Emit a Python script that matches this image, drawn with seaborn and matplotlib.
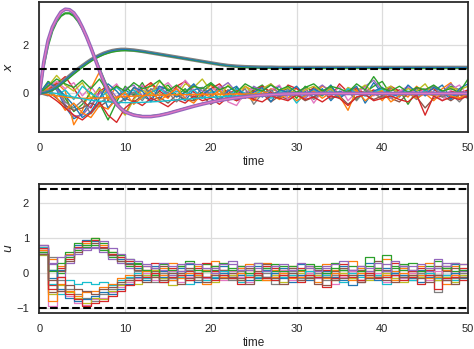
import matplotlib
matplotlib.use("Agg")
import matplotlib.pyplot as plt
import seaborn as sns
import pandas as pd

# ---------------- data ----------------
time = list(range(51))
fine_time = [0, 0.5, 1, 1.5, 2, 2.5, 3, 3.5, 4, 4.5, 5, 5.5, 6, 6.5, 7, 7.5, 8, 8.5, 9, 9.5, 10] + list(range(11, 51))

x_limit = 1.0
u_upper = 2.4
u_lower = -1.0

peak_a = [0, 1.3, 2.2, 2.75, 3.1, 3.38, 3.5, 3.48, 3.35, 3.1, 2.75, 2.35, 1.9, 1.42, 0.95, 0.5, 0.1, -0.2, -0.45, -0.63, -0.77,
          -0.9, -0.96, -0.96, -0.91, -0.83, -0.73, -0.63, -0.53, -0.44, -0.36, -0.29, -0.23, -0.18, -0.14, -0.1, -0.07, -0.05,
          -0.03, -0.02, -0.01, -0.01, 0, 0, 0, 0, 0, 0, 0, 0, 0, 0, 0, 0, 0, 0, 0, 0, 0, 0, 0]
peak_b = [0, 1.15, 2.0, 2.6, 2.98, 3.22, 3.33, 3.33, 3.22, 3.0, 2.7, 2.33, 1.92, 1.48, 1.03, 0.6, 0.2, -0.13, -0.4, -0.6, -0.74,
          -0.88, -0.94, -0.94, -0.9, -0.82, -0.72, -0.62, -0.52, -0.43, -0.35, -0.28, -0.22, -0.17, -0.13, -0.1, -0.07, -0.05,
          -0.03, -0.02, -0.01, 0, 0, 0, 0, 0, 0, 0, 0, 0, 0, 0, 0, 0, 0, 0, 0, 0, 0, 0, 0]
slow_a = [0, 0.03, 0.08, 0.17, 0.28, 0.42, 0.57, 0.73, 0.88, 1.02, 1.15, 1.28, 1.4, 1.5, 1.59, 1.67, 1.73, 1.78, 1.81, 1.83, 1.83,
          1.8, 1.75, 1.69, 1.63, 1.57, 1.51, 1.45, 1.39, 1.33, 1.27, 1.21, 1.16, 1.13, 1.11, 1.1, 1.09, 1.09, 1.08, 1.08, 1.08,
          1.08, 1.08, 1.08, 1.08, 1.08, 1.08, 1.08, 1.08, 1.08, 1.08, 1.08, 1.08, 1.08, 1.08, 1.08, 1.08, 1.08, 1.08, 1.08, 1.08]
slow_b = [0, 0.02, 0.06, 0.13, 0.23, 0.36, 0.5, 0.65, 0.8, 0.94, 1.08, 1.21, 1.33, 1.44, 1.53, 1.61, 1.67, 1.72, 1.75, 1.77, 1.78,
          1.77, 1.73, 1.68, 1.62, 1.56, 1.5, 1.44, 1.38, 1.32, 1.26, 1.2, 1.15, 1.11, 1.09, 1.07, 1.06, 1.05, 1.05, 1.05, 1.05,
          1.05, 1.05, 1.05, 1.05, 1.05, 1.05, 1.05, 1.05, 1.05, 1.05, 1.05, 1.05, 1.05, 1.05, 1.05, 1.05, 1.05, 1.05, 1.05, 1.05]

x_noise_1 = [0, 0.35, 0.15, -0.55, -1.05, -0.85, -0.3, 0.25, -0.6, -0.2, 0.15, -0.1, 0.3, 0.05, -0.25, 0.2, -0.05, -0.3, 0.15, 0.25,
             -0.1, 0.3, -0.2, 0.1, 0.0, 0.25, -0.15, 0.1, 0.3, -0.2, 0.05, 0.1, -0.15, 0.2, -0.3, 0.1, 0.0, 0.2, -0.1, 0.45,
             0.0, -0.2, 0.1, 0.0, 0.2, -0.1, 0.1, 0.35, -0.2, 0.0, 0.1]
x_noise_2 = [0, 0.2, 0.45, 0.1, -1.3, -0.7, 0.2, 0.9, -0.3, 0.35, -0.2, 0.25, -0.15, 0.4, 0.0, -0.2, 0.3, 0.1, -0.15, 0.05,
             0.35, -0.05, 0.15, -0.25, 0.3, 0.1, -0.1, 0.2, 0.05, -0.2, 0.25, -0.1, 0.0, 0.3, 0.15, -0.2, 0.1, 0.25, -0.05, 0.1,
             -0.3, 0.2, 0.05, -0.15, 0.3, 0.0, -0.1, 0.2, 0.45, -0.2, 0.1]
x_noise_3 = [0, 0.5, 0.3, -0.2, -0.75, -0.45, 0.05, -0.4, -1.1, -0.35, 0.3, -0.05, 0.45, -0.2, 0.1, 0.35, -0.1, 0.2, -0.25, 0.05,
             0.4, 0.1, -0.15, 0.25, -0.1, 0.15, 0.35, -0.05, 0.1, 0.2, -0.2, 0.3, 0.05, -0.1, 0.25, 0.0, 0.15, -0.25, 0.05, 0.3,
             0.5, -0.05, 0.15, -0.45, 0.1, 0.2, -0.1, 0.05, 0.3, 0.15, -0.15]
x_noise_4 = [0, 0.15, 0.4, 0.7, 0.2, -0.3, -0.6, 0.1, 0.3, -0.4, -0.85, -0.2, 0.2, 0.45, 0.1, -0.15, 0.3, 0.5, 0.05, -0.1,
             0.2, 0.4, 0.0, 0.15, -0.2, 0.1, 0.3, 0.05, -0.1, 0.35, 0.2, -0.05, 0.25, 0.1, -0.15, 0.4, 0.05, 0.2, 0.0, 0.15,
             -0.1, 0.3, 0.1, -0.05, 0.25, 0.05, 0.2, -0.15, 0.1, 0.0, 0.15]
x_noise_5 = [0, 0.4, 0.2, -0.45, -0.95, -0.9, -0.5, 0.0, 0.25, -0.15, 0.2, 0.35, -0.1, 0.15, 0.3, -0.05, 0.2, -0.2, 0.35, 0.1,
             -0.05, 0.2, 0.45, 0.05, -0.1, 0.3, 0.1, 0.4, -0.05, 0.15, 0.0, -0.2, 0.1, 0.35, 0.05, -0.1, 0.2, 0.05, 0.3, 0.55,
             0.1, -0.15, 0.05, 0.25, -0.1, 0.15, 0.3, 0.05, 0.4, 0.1, -0.05]
x_noise_6 = [0, 0.1, -0.2, -0.5, -0.7, -0.6, -0.4, -0.55, -0.3, -0.45, -0.2, -0.35, -0.1, -0.3, -0.15, -0.4, -0.05, -0.25, -0.3, -0.1,
             -0.45, -0.2, -0.05, -0.3, -0.15, -0.2, 0.0, -0.35, -0.1, -0.25, -0.05, -0.3, -0.15, 0.05, -0.2, -0.1, -0.45, -0.15, -0.05, -0.25,
             -0.1, -0.2, -0.35, 0.0, -0.15, -0.6, -0.2, -0.1, -0.3, -0.05, -0.2]
x_noise_7 = [0, 0.25, 0.5, 0.2, 0.45, -0.1, 0.3, -0.2, 0.1, 0.4, -0.15, 0.05, 0.35, -0.25, 0.2, 0.45, 0.05, 0.55, 0.15, -0.2,
             0.1, 0.3, -0.35, -0.5, 0.05, 0.2, -0.1, 0.15, 0.35, -0.25, 0.0, 0.2, -0.4, 0.1, -0.15, 0.3, -0.3, 0.05, 0.25, -0.1,
             0.15, -0.2, 0.1, 0.3, -0.05, 0.2, 0.05, -0.3, 0.15, 0.35, -0.1]
x_noise_8 = [0, -0.1, 0.3, -0.35, -0.6, -0.3, -0.85, -0.4, -0.15, -0.5, -0.2, 0.05, -0.3, 0.2, -0.1, 0.05, -0.35, 0.1, -0.2, 0.25,
             -0.05, -0.3, 0.15, -0.15, 0.2, -0.45, 0.0, 0.15, -0.2, 0.1, -0.05, 0.25, -0.25, 0.05, 0.2, -0.15, 0.1, -0.3, 0.15, 0.0,
             -0.2, 0.25, -0.1, 0.05, -0.25, 0.1, 0.3, -0.15, 0.0, -0.35, 0.05]
x_noise_9 = [0, 0.3, 0.75, 0.35, 0.1, 0.45, -0.2, 0.2, -0.1, -0.5, -0.9, -0.25, 0.15, -0.05, 0.5, 0.2, -0.1, 0.4, 0.25, 0.6,
             0.1, -0.15, 0.35, 0.05, 0.3, -0.05, 0.2, 0.4, 0.1, 0.25, -0.1, 0.15, 0.3, 0.05, 0.2, -0.15, 0.25, 0.1, 0.35, 0.0,
             0.15, 0.3, -0.05, 0.2, 0.1, 0.4, -0.1, 0.05, 0.25, 0.15, 0.3]
x_noise_10 = [0, 0.05, -0.1, 0.15, -0.25, 0.3, 0.0, -0.2, 0.1, 0.25, -0.05, 0.15, -0.2, 0.05, 0.2, -0.1, 0.1, -0.05, 0.15, -0.2,
              0.05, 0.1, -0.15, 0.2, 0.0, -0.1, 0.15, -0.2, 0.05, 0.1, -0.4, 0.0, 0.15, -0.05, 0.1, -0.15, 0.2, 0.0, -0.1, 0.05,
              0.2, -0.15, 0.0, 0.1, -0.2, 0.15, -0.05, 0.1, -0.1, 0.0, 0.05]
x_noise_11 = [0, 0.45, 0.25, -0.1, -0.5, -1.0, -0.75, -0.2, 0.4, 0.1, -0.3, 0.25, 0.1, -0.35, 0.3, 0.15, -0.15, 0.05, 0.4, -0.05,
              0.2, -0.3, 0.1, 0.3, -0.15, 0.05, 0.25, -0.35, 0.15, 0.05, 0.3, -0.1, 0.2, 0.0, 0.35, -0.2, 0.05, 0.3, -0.4, 0.1,
              0.25, 0.0, -0.15, 0.35, 0.05, -0.05, 0.25, 0.1, -0.25, 0.2, 0.4]
x_noise_12 = [0, 0.2, -0.15, -0.7, -0.4, -0.8, -1.0, -0.5, -0.65, -0.2, 0.05, -0.45, -0.15, 0.1, -0.3, -0.05, 0.2, -0.2, -0.4, 0.0,
              -0.15, 0.15, -0.3, 0.0, -0.1, -0.3, 0.1, -0.05, -0.25, 0.05, -0.3, -0.1, 0.1, -0.2, 0.05, -0.1, -0.7, 0.15, -0.3, -0.05,
              0.1, -0.35, -0.1, 0.05, -0.2, 0.0, -0.3, 0.05, -0.1, -0.2, 0.0]
x_noise_13 = [0, 0.3, 0.6, 0.4, 0.25, 0.55, 0.2, 0.6, 0.05, 0.3, 0.1, 0.45, 0.2, 0.3, 0.55, 0.1, 0.35, 0.05, 0.3, 0.2,
              0.45, 0.15, 0.3, 0.05, 0.4, 0.2, 0.1, 0.35, 0.15, 0.3, 0.05, 0.25, 0.4, 0.1, 0.3, 0.2, 0.05, 0.4, 0.15, 0.7,
              0.2, 0.1, 0.3, 0.05, 0.25, 0.15, 0.35, 0.1, 0.2, 0.05, 0.6]
x_noise_14 = [0, -0.05, -0.3, -0.6, -0.9, -1.1, -0.8, -0.35, -0.9, -1.2, -0.6, -0.3, -0.5, -0.2, -0.35, -0.55, -0.25, -0.4, -0.1, -0.3,
              -0.2, -0.45, -0.15, -0.3, -0.05, -0.25, -0.35, -0.1, -0.2, -0.3, -0.05, -0.25, -0.15, -0.35, -0.1, -0.2, -0.5, -0.15, -0.05, -0.3,
              -0.2, -0.1, -0.25, -0.35, -0.05, -0.9, -0.1, -0.3, -0.15, -0.25, -0.1]
x_smooth_1 = [0, -0.05, -0.1, -0.15, -0.18, -0.2, -0.2, -0.19, -0.17, -0.15, -0.13, -0.11, -0.09, -0.08, -0.07, -0.06, -0.05, -0.05,
              -0.04, -0.04, -0.03, -0.03, -0.03, -0.02, -0.02, -0.02, -0.02, -0.01, -0.01, -0.01, -0.01, -0.01, -0.01, 0, 0, 0, 0,
              0, 0, 0, 0, 0, 0, 0, 0, 0, 0, 0, 0, 0, 0]
x_smooth_2 = [0, 0.05, 0.0, -0.08, -0.15, -0.22, -0.28, -0.32, -0.35, -0.37, -0.38, -0.38, -0.37, -0.35, -0.33, -0.3, -0.27, -0.24,
              -0.21, -0.18, -0.16, -0.14, -0.12, -0.1, -0.09, -0.08, -0.07, -0.06, -0.05, -0.05, -0.04, -0.04, -0.03, -0.03, -0.03,
              -0.02, -0.02, -0.02, -0.02, -0.01, -0.01, -0.01, -0.01, -0.01, 0, 0, 0, 0, 0, 0, 0]

u_run_1 = [0.75, -0.15, 0.1, 0.5, 0.8, 0.95, 0.9, 0.7, 0.5, 0.4, 0.3, 0.15, -0.05, 0.2, 0.05, -0.1, 0.15, 0.25, 0.0, 0.1,
           -0.15, 0.2, 0.05, 0.1, -0.05, 0.2, 0.1, -0.1, 0.15, 0.0, 0.25, -0.05, 0.1, 0.05, -0.15, 0.2, 0.0, 0.1, 0.3, -0.05,
           0.15, 0.05, 0.2, -0.1, 0.1, 0.0, 0.15, -0.05, 0.25, 0.1, 0.1]
u_run_2 = [0.7, 0.4, 0.2, 0.55, 0.7, 0.85, 1.0, 0.8, 0.6, 0.45, 0.25, 0.1, 0.2, -0.05, 0.15, 0.3, 0.05, -0.1, 0.2, 0.1,
           0.35, 0.0, -0.1, 0.15, 0.25, 0.05, 0.3, 0.1, -0.05, 0.2, 0.05, 0.15, -0.1, 0.25, 0.1, 0.0, 0.35, 0.15, -0.05, 0.1,
           0.4, 0.05, 0.15, 0.0, 0.2, 0.3, -0.05, 0.1, 0.2, 0.25, 0.25]
u_run_3 = [0.6, 0.1, 0.0, 0.45, 0.65, 0.75, 0.8, 0.65, 0.45, 0.35, 0.2, 0.3, 0.05, 0.1, -0.15, 0.05, 0.2, 0.1, -0.05, 0.25,
           0.1, -0.1, 0.15, 0.0, 0.1, -0.2, 0.15, 0.05, 0.2, -0.1, 0.1, 0.0, 0.2, -0.05, 0.15, 0.1, -0.15, 0.05, 0.2, 0.1,
           -0.1, 0.15, 0.25, 0.05, -0.05, 0.1, -0.2, 0.15, 0.05, -0.1, -0.1]
u_run_4 = [0.8, -0.35, 0.15, 0.4, 0.75, 0.9, 0.95, 0.75, 0.55, 0.45, 0.35, 0.2, 0.1, 0.3, 0.0, 0.15, -0.1, 0.05, 0.15, 0.3,
           0.05, 0.1, -0.05, 0.2, 0.1, 0.0, 0.2, 0.15, 0.05, -0.1, 0.15, 0.2, 0.0, 0.1, -0.05, 0.25, 0.1, -0.2, 0.05, 0.15,
           0.0, 0.3, -0.1, 0.05, 0.15, 0.1, -0.05, 0.2, 0.0, 0.15, 0.15]
u_run_5 = [0.55, 0.25, -0.1, 0.3, 0.55, 0.7, 0.75, 0.6, 0.4, 0.3, 0.15, 0.05, 0.2, 0.15, 0.1, -0.05, 0.25, 0.0, 0.1, -0.1,
           0.15, 0.05, 0.25, -0.05, 0.1, 0.15, -0.1, 0.2, 0.05, 0.1, -0.05, 0.2, 0.1, 0.15, 0.0, -0.1, 0.1, 0.2, 0.05, -0.1,
           0.25, 0.0, 0.1, 0.2, -0.05, 0.05, 0.15, 0.3, -0.1, 0.05, 0.05]
u_run_6 = [0.65, -0.55, 0.05, 0.35, 0.6, 0.8, 0.85, 0.7, 0.5, 0.35, 0.25, 0.1, -0.1, 0.05, 0.2, 0.1, 0.0, 0.15, -0.1, 0.05,
           0.2, 0.1, 0.0, -0.15, 0.15, 0.05, 0.25, 0.0, 0.1, 0.15, -0.1, 0.05, 0.1, -0.35, 0.05, 0.15, 0.05, 0.1, -0.05, 0.35,
           0.1, -0.05, 0.2, 0.1, 0.05, -0.1, 0.2, 0.05, 0.15, 0.0, 0.0]
u_run_7 = [0.7, -0.95, -0.5, -0.65, -0.85, -0.9, -0.75, -0.7, -0.55, -0.4, -0.25, -0.15, 0.0, -0.2, -0.1, 0.05, -0.25, -0.1, 0.0, -0.15,
           -0.05, -0.2, 0.05, -0.1, -0.25, 0.0, -0.15, -0.05, 0.1, -0.2, -0.1, 0.0, -0.15, -0.05, -0.3, -0.1, 0.05, -0.2, -0.1, 0.0,
           -0.25, -0.05, -0.15, 0.0, -0.1, -0.2, 0.05, -0.15, -0.05, -0.1, -0.1]
u_run_8 = [0.6, 0.45, -0.2, -0.45, -0.6, -0.7, -0.8, -0.6, -0.45, -0.3, -0.15, 0.05, -0.1, -0.25, 0.0, -0.15, -0.05, 0.1, -0.2, -0.1,
           0.0, -0.05, -0.2, 0.05, -0.1, -0.15, 0.0, -0.3, -0.05, 0.05, -0.15, -0.1, 0.0, -0.2, -0.05, 0.1, -0.1, -0.25, 0.0, -0.1,
           0.05, -0.15, -0.05, -0.2, 0.0, -0.1, -0.55, -0.05, -0.15, 0.0, 0.0]
u_run_9 = [0.5, -0.6, -0.35, -0.55, -0.7, -0.85, -0.7, -0.75, -0.5, -0.35, -0.2, -0.3, -0.05, 0.1, -0.15, -0.35, -0.05, -0.2, -0.1, 0.05,
           -0.25, -0.15, -0.05, -0.2, 0.0, -0.1, -0.2, -0.05, -0.25, -0.1, 0.0, -0.15, -0.05, -0.1, -0.2, 0.0, -0.15, -0.05, -0.2, -0.1,
           0.0, -0.15, -0.25, -0.05, -0.1, 0.0, -0.2, -0.1, -0.25, -0.05, -0.05]
u_run_10 = [0.75, -0.3, -0.6, -0.2, -0.3, -0.25, -0.3, -0.25, -0.35, -0.2, -0.1, 0.0, -0.15, -0.05, -0.25, 0.0, -0.1, -0.3, 0.0, -0.2,
            -0.1, 0.05, -0.15, -0.25, -0.05, -0.1, 0.05, -0.2, -0.1, -0.05, -0.2, 0.05, -0.1, -0.05, -0.15, -0.25, 0.0, -0.1, -0.15, -0.05,
            -0.3, 0.0, -0.1, -0.2, -0.05, 0.0, -0.15, -0.05, -0.2, -0.1, -0.1]
u_run_11 = [0.55, 0.1, -0.45, -0.7, -0.8, -0.75, -0.65, -0.55, -0.6, -0.45, -0.3, -0.1, -0.2, 0.0, -0.1, -0.2, 0.05, -0.05, -0.25, -0.1,
            -0.15, 0.0, -0.1, -0.05, -0.2, -0.15, -0.1, 0.0, -0.15, -0.25, -0.05, -0.2, -0.1, 0.0, -0.1, -0.2, -0.35, -0.05, -0.1, -0.2,
            -0.1, 0.0, -0.05, -0.15, -0.25, -0.1, -0.05, -0.2, 0.0, -0.15, -0.15]
u_run_12 = [0.65, -0.8, -0.3, -0.5, -0.65, -0.55, -0.5, -0.4, -0.3, -0.15, -0.05, -0.2, 0.05, -0.1, -0.05, -0.2, -0.15, 0.0, -0.05, -0.3,
            0.0, -0.1, -0.15, 0.0, -0.1, -0.05, -0.2, -0.1, 0.0, -0.15, -0.1, -0.05, -0.25, -0.15, 0.0, -0.05, -0.2, 0.0, -0.1, -0.15,
            -0.05, -0.2, 0.0, -0.1, -0.05, -0.15, -0.1, -0.3, -0.05, -0.1, -0.1]
u_run_13 = [0.6, 0.05, 0.3, 0.6, 0.85, 0.8, 1.0, 0.85, 0.6, 0.5, 0.4, 0.25, 0.1, -0.05, 0.25, 0.1, 0.2, 0.35, 0.1, 0.05,
            0.2, 0.3, 0.1, 0.2, 0.0, 0.3, 0.15, 0.25, 0.05, 0.2, 0.1, 0.25, 0.15, 0.0, 0.3, 0.1, 0.2, 0.05, 0.45, 0.15,
            0.5, 0.2, 0.1, 0.3, 0.05, 0.2, 0.35, 0.15, 0.3, 0.1, 0.1]
u_run_14 = [0.7, -0.45, -0.1, -0.6, -0.75, -0.95, -0.85, -0.8, -0.65, -0.5, -0.35, -0.2, -0.1, 0.0, -0.25, -0.1, -0.05, -0.2, 0.0, -0.1,
            -0.2, -0.05, -0.15, -0.3, -0.1, 0.0, -0.15, -0.2, -0.05, -0.1, -0.25, -0.05, -0.1, -0.4, -0.15, -0.05, -0.1, -0.2, 0.0, -0.15,
            -0.1, -0.05, -0.2, -0.1, -0.3, -0.05, -0.45, -0.15, -0.1, -0.2, -0.2]
u_run_15 = [0.8, 0.3, 0.45, 0.5, 0.7, 0.65, 0.7, 0.9, 0.7, 0.55, 0.4, 0.35, 0.25, 0.15, 0.3, 0.2, 0.05, 0.3, 0.25, 0.15,
            0.0, 0.25, 0.35, 0.1, 0.2, 0.3, 0.05, 0.2, 0.25, 0.1, 0.3, 0.15, 0.05, 0.2, 0.25, 0.35, 0.1, 0.2, 0.15, 0.3,
            0.05, 0.35, 0.2, 0.1, 0.25, 0.15, 0.4, 0.2, 0.3, 0.25, 0.25]
u_run_16 = [0.55, -0.2, -0.5, -0.35, -0.45, -0.5, -0.6, -0.45, -0.4, -0.25, -0.2, -0.05, -0.25, -0.1, -0.2, 0.0, -0.3, -0.15, -0.1, -0.25,
            -0.05, -0.15, -0.1, -0.2, -0.3, -0.05, -0.1, -0.15, -0.3, 0.0, -0.2, -0.15, -0.3, -0.1, -0.2, -0.15, -0.05, -0.25, -0.15, -0.1,
            -0.2, -0.25, -0.1, -0.05, -0.15, -0.25, -0.05, -0.2, -0.3, -0.1, -0.1]

x_noise = [x_noise_1, x_noise_2, x_noise_3, x_noise_4, x_noise_5, x_noise_6, x_noise_7,
           x_noise_8, x_noise_9, x_noise_10, x_noise_11, x_noise_12, x_noise_13, x_noise_14]
u_runs = [u_run_1, u_run_2, u_run_3, u_run_4, u_run_5, u_run_6, u_run_7, u_run_8,
          u_run_9, u_run_10, u_run_11, u_run_12, u_run_13, u_run_14, u_run_15, u_run_16]


def long_frame(series_list, t):
    rows = []
    for k, s in enumerate(series_list):
        for ti, v in zip(t, s):
            rows.append({"time": ti, "value": v, "run": k})
    return pd.DataFrame(rows)


# ---------------- style ----------------
sns.set_theme(style="whitegrid", rc={
    "axes.edgecolor": "#2b2b2b",
    "axes.linewidth": 1.3,
    "grid.color": "#dcdcdc",
    "grid.linewidth": 0.9,
})
plt.rcParams["font.family"] = ["Liberation Sans", "DejaVu Sans"]
plt.rcParams["mathtext.fontset"] = "dejavusans"

tab = sns.color_palette("tab10")

fig = plt.figure(figsize=(4.74, 3.49), dpi=100)
ax1 = fig.add_axes([0.0833, 0.6218, 0.9040, 0.3725])
ax2 = fig.add_axes([0.0833, 0.1032, 0.9040, 0.3696])

# ---- top panel: x ----
df_noise = long_frame(x_noise, time)
pal_x = {k: tab[k % 10] for k in range(len(x_noise))}
sns.lineplot(data=df_noise, x="time", y="value", hue="run", palette=pal_x, estimator=None,
             legend=False, lw=1.0, ax=ax1)
sns.lineplot(x=time, y=x_smooth_1, color=tab[1], lw=1.0, ax=ax1)
sns.lineplot(x=time, y=x_smooth_2, color=tab[9], lw=1.0, ax=ax1)
sns.lineplot(x=fine_time, y=slow_a, color=tab[7], lw=2.6, ax=ax1)
sns.lineplot(x=fine_time, y=slow_b, color=tab[2], lw=1.0, ax=ax1)
sns.lineplot(x=fine_time, y=slow_a, color=tab[0], lw=0.8, ax=ax1)
sns.lineplot(x=fine_time, y=peak_b, color=tab[2], lw=1.6, ax=ax1)
sns.lineplot(x=fine_time, y=peak_a, color=tab[4], lw=2.6, ax=ax1)
sns.lineplot(x=fine_time, y=peak_a, color=tab[6], lw=0.9, ax=ax1)
ax1.axhline(x_limit, color="black", ls="--", lw=1.5, zorder=5)

ax1.set_xlim(0, 50)
ax1.set_ylim(-1.6, 3.8)
ax1.set_xticks([0, 10, 20, 30, 40, 50])
ax1.set_yticks([0, 2])
ax1.set_xlabel("time", fontsize=8.5, labelpad=2)
ax1.set_ylabel("$x$", fontsize=9)
ax1.yaxis.set_label_coords(-0.057, 0.5)

# ---- bottom panel: u ----
df_u = long_frame(u_runs, time)
pal_u = {k: tab[k % 10] for k in range(len(u_runs))}
sns.lineplot(data=df_u, x="time", y="value", hue="run", palette=pal_u, estimator=None,
             legend=False, lw=0.9, drawstyle="steps-post", ax=ax2)
ax2.axhline(u_upper, color="black", ls="--", lw=1.5, zorder=5)
ax2.axhline(u_lower, color="black", ls="--", lw=1.5, zorder=5)
ax2.set_xlim(0, 50)
ax2.set_ylim(-1.14, 2.54)
ax2.set_xticks([0, 10, 20, 30, 40, 50])
ax2.set_yticks([-1, 0, 1, 2])
ax2.set_xlabel("time", fontsize=8.5, labelpad=2)
ax2.set_ylabel("$u$", fontsize=9)
ax2.yaxis.set_label_coords(-0.058, 0.5)

for ax in (ax1, ax2):
    ax.tick_params(axis="both", labelsize=8, length=0)
    ax.tick_params(axis="x", pad=8)
    ax.tick_params(axis="y", pad=7.5)
    ax.grid(True)

fig.savefig("out.png", dpi=100)
